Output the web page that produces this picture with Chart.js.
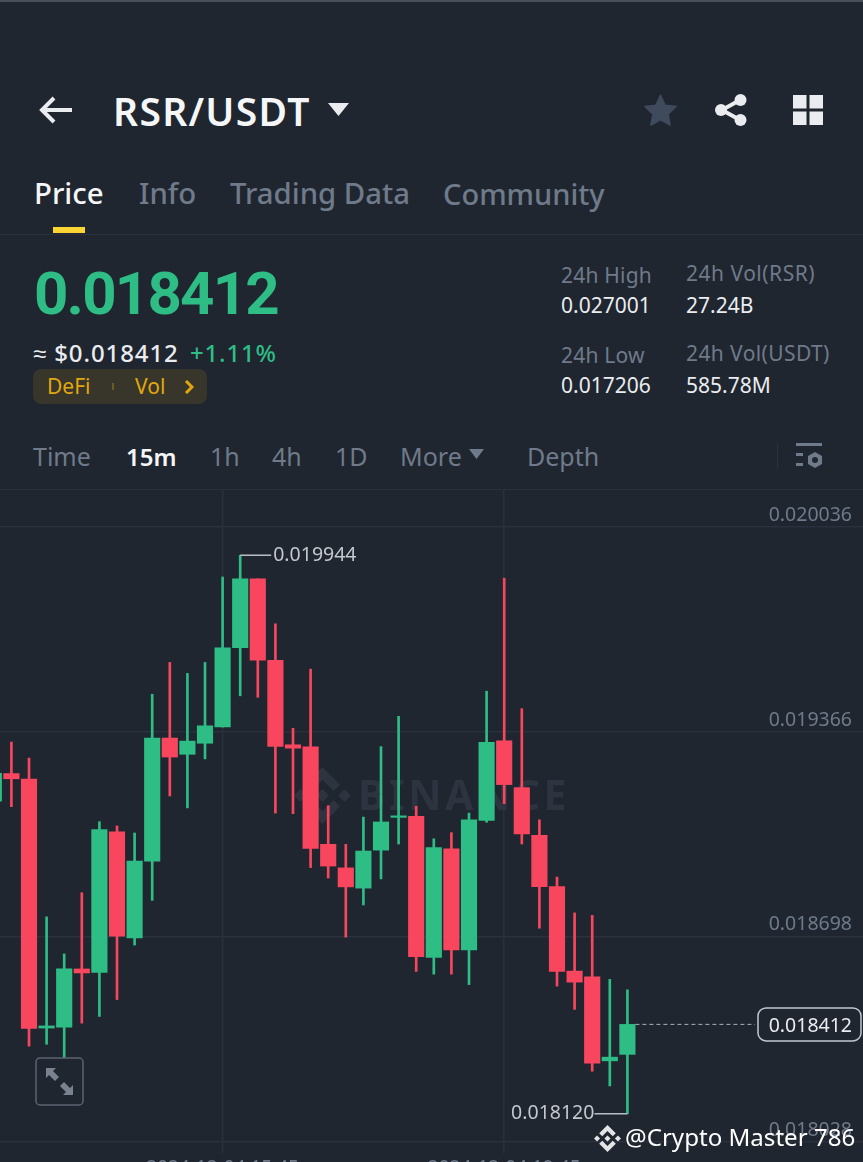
<!DOCTYPE html>
<html>
<head>
<meta charset="utf-8">
<title>RSR/USDT</title>
<script src="https://cdn.jsdelivr.net/npm/chart.js@4"></script>
<style>
    html, body { margin: 0; padding: 0; width: 863px; height: 1162px; overflow: hidden; background: #1f2630; }
    body { position: relative; font-family: "Noto Sans", sans-serif; color: #eaecef; }
    .t { position: absolute; white-space: nowrap; line-height: 1; }
    .gray { color: #6f7a8a; }
    .line { position: absolute; background: #2a313c; }
    svg { position: absolute; }
    #chart { position: absolute; left: -15px; top: 490px; }
</style>
</head>
<body>
<div style="position:absolute;left:0;top:0;width:863px;height:1.5px;background:#4a4f5a"></div>
<svg style="left:38px;top:95px" width="36" height="30" viewBox="0 0 36 30"><path d="M16 3 L4 15 L16 27 M4 15 H34" fill="none" stroke="#eaecef" stroke-width="4"/></svg>
<div class="t" style="left:113px;top:91px;font-size:39px;font-weight:600;color:#f5f6f7;letter-spacing:1.3px">RSR/USDT</div>
<svg style="left:328px;top:102px" width="22" height="15"><path d="M0 1 H21 L10.500 14 Z" fill="#eaecef"/></svg>
<svg style="left:643px;top:93px" width="35" height="35" viewBox="0 0 24 24"><path d="M12 1.500 l3.200 6.900 7.500.9-5.500 5.200 1.400 7.500L12 18.400 5.400 22l1.400-7.500L1.300 9.300l7.500-.9z" fill="#3f4a5c" stroke="#3f4a5c" stroke-linejoin="round"/></svg>
<svg style="left:714px;top:93px" width="34" height="34" viewBox="0 0 34 34"><path d="M26 7 L8 17 L26 27" fill="none" stroke="#eaecef" stroke-width="4"/><circle cx="26.500" cy="7" r="6" fill="#eaecef"/><circle cx="7" cy="17" r="6" fill="#eaecef"/><circle cx="26.500" cy="27" r="6" fill="#eaecef"/></svg>
<svg style="left:793px;top:95px" width="30" height="30"><path d="M0 0 H13.500 V13.500 H0 Z M16.500 0 H30 V13.500 H16.500 Z M0 16.500 H13.500 V30 H0 Z M16.500 16.500 H30 V30 H16.500 Z" fill="#eaecef"/></svg>

<div class="t" style="left:34px;top:179px;font-size:29.400px;font-weight:500;color:#f5f6f7">Price</div>
<div class="t gray" style="left:139px;top:179px;font-size:29.400px;font-weight:500">Info</div>
<div class="t gray" style="left:230px;top:179px;font-size:29.300px;font-weight:500">Trading Data</div>
<div class="t gray" style="left:443px;top:179px;font-size:29px;font-weight:500">Community</div>
<div style="position:absolute;left:53px;top:227px;width:32px;height:6px;background:#fcd535"></div>
<div class="line" style="left:0;top:234px;width:863px;height:1px"></div>

<div class="t" style="left:34px;top:264px;font-family:Roboto,sans-serif;font-size:60px;font-weight:700;letter-spacing:-1.800px;color:#2ebd85">0.018412</div>
<div class="t" style="left:33px;top:341px;font-size:24px;font-weight:500;letter-spacing:.9px">≈ $0.018412</div>
<div class="t" style="left:190px;top:341px;font-size:24px;font-weight:500;letter-spacing:.8px;color:#2ebd85">+1.11%</div>
<div style="position:absolute;left:33px;top:369px;width:174px;height:35px;border-radius:8px;background:#38352b"></div>
<div class="t" style="left:47px;top:376px;font-size:21px;color:#e0a80d">DeFi</div>
<div style="position:absolute;left:112px;top:383px;width:2px;height:7px;background:#6a5a25"></div>
<div class="t" style="left:135px;top:376px;font-size:21px;color:#e0a80d">Vol</div>
<svg style="left:184px;top:380px" width="10" height="14"><path d="M2 1 L8 7 L2 13" fill="none" stroke="#e0a80d" stroke-width="3"/></svg>

<div class="t gray" style="left:561px;top:265px;font-size:21px;letter-spacing:.2px">24h High</div>
<div class="t" style="left:561px;top:295px;font-size:21px">0.027001</div>
<div class="t gray" style="left:561px;top:345px;font-size:21px;letter-spacing:.2px">24h Low</div>
<div class="t" style="left:561px;top:375px;font-size:21px">0.017206</div>
<div class="t gray" style="left:686px;top:263px;font-size:21px;letter-spacing:.5px">24h Vol(RSR)</div>
<div class="t" style="left:686px;top:295px;font-size:21px">27.24B</div>
<div class="t gray" style="left:686px;top:343px;font-size:21px;letter-spacing:.4px">24h Vol(USDT)</div>
<div class="t" style="left:686px;top:375px;font-size:21px">585.78M</div>

<div class="t gray" style="left:33px;top:444px;font-size:25px">Time</div>
<div class="t" style="left:126px;top:445px;font-size:24px;font-weight:600;color:#f5f6f7">15m</div>
<div class="t gray" style="left:210px;top:444px;font-size:25px">1h</div>
<div class="t gray" style="left:272px;top:444px;font-size:25px">4h</div>
<div class="t gray" style="left:335px;top:444px;font-size:25px">1D</div>
<div class="t gray" style="left:400px;top:444px;font-size:25px">More</div>
<svg style="left:469px;top:449px" width="15" height="11"><path d="M0 0 H15 L7.500 10 Z" fill="#6f7a8a"/></svg>
<div class="t gray" style="left:527px;top:444px;font-size:25px">Depth</div>
<div class="line" style="left:777px;top:443px;width:1px;height:26px"></div>
<svg style="left:796px;top:443px" width="27" height="26"><path d="M0 0 H26 V3 H0 Z M0 10 H7 V13 H0 Z M0 20 H7 V23 H0 Z" fill="#6f7a8a"/><path d="M19 9 L26 13 V21 L19 25 L12 21 V13 Z" fill="#6f7a8a"/><circle cx="19" cy="17" r="3" fill="#1f2630"/></svg>
<div class="line" style="left:0;top:489px;width:863px;height:1px"></div>

<canvas id="chart" width="880" height="690"></canvas>

<svg style="left:35px;top:1057px" width="49" height="49" viewBox="0 0 49 49"><rect x="1" y="1" width="47" height="47" rx="4" fill="#1f2630" stroke="#5b6370" stroke-width="1.500"/><path d="M11 11 H21 L18 14 L24 20 L20 24 L14 18 L11 21 Z M38 38 H28 L31 35 L25 29 L29 25 L35 31 L38 28 Z" fill="#7a8290"/></svg>

<svg style="left:594px;top:1125px" width="27" height="27" viewBox="0 0 126.610 126.610"><path d="M38.730 53.200l24.590-24.580 24.600 24.600 14.300-14.310L63.320 0 24.430 38.900zM0 63.310l14.300-14.310 14.310 14.310-14.310 14.300zM38.730 73.410l24.590 24.590 24.600-24.600 14.310 14.290-.01.010-38.900 38.910-38.900-38.880-.02-.02zM98.010 63.310l14.300-14.310 14.300 14.310-14.300 14.300zM77.830 63.300L63.320 48.780 52.590 59.510l-1.240 1.230-2.540 2.540 14.510 14.500 14.510-14.470z" fill="#e4e4e4"/></svg>
<div class="t" style="left:625px;top:1125px;font-size:24.100px;color:#fff">@Crypto Master 786</div>

<script>
const categories = [
    '2024-12-04 12:30', '2024-12-04 12:45', '2024-12-04 13:00', '2024-12-04 13:15', '2024-12-04 13:30',
    '2024-12-04 13:45', '2024-12-04 14:00', '2024-12-04 14:15', '2024-12-04 14:30', '2024-12-04 14:45',
    '2024-12-04 15:00', '2024-12-04 15:15', '2024-12-04 15:30', '2024-12-04 15:45', '2024-12-04 16:00',
    '2024-12-04 16:15', '2024-12-04 16:30', '2024-12-04 16:45', '2024-12-04 17:00', '2024-12-04 17:15',
    '2024-12-04 17:30', '2024-12-04 17:45', '2024-12-04 18:00', '2024-12-04 18:15', '2024-12-04 18:30',
    '2024-12-04 18:45', '2024-12-04 19:00', '2024-12-04 19:15', '2024-12-04 19:30', '2024-12-04 19:45',
    '2024-12-04 20:00', '2024-12-04 20:15', '2024-12-04 20:30', '2024-12-04 20:45', '2024-12-04 21:00',
    '2024-12-04 21:15', '2024-12-04 21:30', '2024-12-04 21:45', '2024-12-04 22:00', '2024-12-04 22:15',
    '2024-12-04 22:30', '2024-12-04 22:45', '2024-12-04 23:00', '2024-12-04 23:15', '2024-12-04 23:30',
    '2024-12-04 23:45', '2024-12-05 00:00', '2024-12-05 00:15', '2024-12-05 00:30', '2024-12-05 00:45'
];

const openPrices = [
    0.019141, 0.019231, 0.019213, 0.018400, 0.018403, 0.018593, 0.018582, 0.019041, 0.018694, 0.018945,
    0.019347, 0.019294, 0.019330, 0.019383, 0.019642, 0.019867, 0.019601, 0.019325, 0.019318, 0.019000,
    0.018923, 0.018857, 0.018981, 0.019088, 0.019091, 0.018631, 0.018985, 0.018655, 0.019078, 0.019338,
    0.019185, 0.019029, 0.018862, 0.018586, 0.018567, 0.018293, 0.018314
];
const closePrices = [
    0.019232, 0.019214, 0.018399, 0.018407, 0.018593, 0.018580, 0.019048, 0.018700, 0.018945, 0.019347,
    0.019285, 0.019337, 0.019387, 0.019642, 0.019867, 0.019601, 0.019320, 0.019314, 0.018987, 0.018929,
    0.018861, 0.018978, 0.019073, 0.019093, 0.018633, 0.018989, 0.018655, 0.019080, 0.019333, 0.019195,
    0.019034, 0.018862, 0.018585, 0.018550, 0.018285, 0.018305, 0.018412
];
const highPrices = [
    0.019243, 0.019334, 0.019282, 0.018763, 0.018642, 0.018842, 0.019074, 0.019060, 0.019037, 0.019490,
    0.019594, 0.019558, 0.019594, 0.019873, 0.019944, 0.019867, 0.019720, 0.019379, 0.019572, 0.019126,
    0.019000, 0.019089, 0.019319, 0.019418, 0.019124, 0.019018, 0.019038, 0.019102, 0.019500, 0.019869,
    0.019443, 0.019080, 0.018893, 0.018776, 0.018768, 0.018559, 0.018525
];
const lowPrices = [
    0.019128, 0.019123, 0.018341, 0.018347, 0.018302, 0.018416, 0.018438, 0.018493, 0.018671, 0.018817,
    0.019158, 0.019119, 0.019279, 0.019383, 0.019485, 0.019480, 0.019102, 0.019100, 0.018924, 0.018890,
    0.018697, 0.018802, 0.018887, 0.019001, 0.018585, 0.018576, 0.018576, 0.018542, 0.019072, 0.019133,
    0.019001, 0.018726, 0.018537, 0.018461, 0.018259, 0.018211, 0.018120
];

const priceTicks = [0.020036, 0.019366, 0.018698, 0.018028];
const timeTicks = ['2024-12-04 15:45', '2024-12-04 19:45'];

const UP = '#2ebd85';
const DOWN = '#f9465f';
const GRID = '#2a313c';
const LABEL = '#6f7a8a';
const FONT = '"Noto Sans", sans-serif';
const LOGO = 'M38.73 53.2l24.59-24.58 24.6 24.6 14.3-14.31L63.32 0 24.43 38.9zM0 63.31l14.3-14.31 14.31 14.31-14.31 14.3zM38.73 73.41l24.59 24.59 24.6-24.6 14.31 14.29-.01.01-38.9 38.91-38.9-38.88-.02-.02zM98.01 63.31l14.3-14.31 14.3 14.31-14.3 14.3zM77.83 63.3L63.32 48.78 52.59 59.51l-1.24 1.23-2.54 2.54 14.51 14.5 14.51-14.47z';

function candleColor(ctx) {
    return closePrices[ctx.dataIndex] >= openPrices[ctx.dataIndex] ? UP : DOWN;
}

// faint exchange mark behind the candles
const watermark = {
    id: 'watermark',
    beforeDatasetsDraw(chart) {
        const c = chart.ctx;
        c.save();
        c.fillStyle = '#2d333f';
        c.translate(309, 277);
        c.scale(0.45, 0.45);
        c.fill(new Path2D(LOGO));
        c.restore();
        c.save();
        c.fillStyle = '#2d333f';
        c.font = `700 41px ${FONT}`;
        c.letterSpacing = '3.5px';
        c.textBaseline = 'middle';
        c.fillText('BINANCE', 373, 308);
        c.restore();
    }
};

// high / low callouts and the last price tag
const priceMarks = {
    id: 'priceMarks',
    afterDatasetsDraw(chart) {
        const c = chart.ctx;
        const x = chart.scales.x;
        const y = chart.scales.y;
        const hi = Math.max(...highPrices);
        const lo = Math.min(...lowPrices);
        const hiX = x.getPixelForValue(highPrices.indexOf(hi));
        const loX = x.getPixelForValue(lowPrices.indexOf(lo));
        const last = closePrices[closePrices.length - 1];
        const lastX = x.getPixelForValue(closePrices.length - 1);
        const lastY = y.getPixelForValue(last);

        c.save();
        c.font = `19.5px ${FONT}`;
        c.textBaseline = 'middle';
        c.strokeStyle = '#b7bdc6';
        c.fillStyle = '#c4c8ce';
        c.lineWidth = 1.5;

        c.beginPath();
        c.moveTo(hiX, y.getPixelForValue(hi));
        c.lineTo(hiX + 31, y.getPixelForValue(hi));
        c.stroke();
        c.textAlign = 'left';
        c.fillText(hi.toFixed(6), hiX + 33, y.getPixelForValue(hi));

        c.beginPath();
        c.moveTo(loX, y.getPixelForValue(lo));
        c.lineTo(loX - 33, y.getPixelForValue(lo));
        c.stroke();
        c.textAlign = 'right';
        c.fillText(lo.toFixed(6), loX - 33, y.getPixelForValue(lo));

        c.lineWidth = 1;
        c.setLineDash([4, 3]);
        c.strokeStyle = '#aab0b8';
        c.beginPath();
        c.moveTo(lastX + 8, lastY);
        c.lineTo(x.right - 110, lastY);
        c.stroke();
        c.setLineDash([]);

        c.fillStyle = '#1f2630';
        c.strokeStyle = '#c4c8ce';
        c.lineWidth = 1.5;
        c.beginPath();
        c.roundRect(x.right - 107, lastY - 16.5, 103, 33, 8);
        c.fill();
        c.stroke();
        c.fillStyle = '#eaecef';
        c.fillText(last.toFixed(6), x.right - 13, lastY + 2);
        c.restore();
    }
};

new Chart(document.getElementById('chart').getContext('2d'), {
    type: 'bar',
    data: {
        labels: categories,
        datasets: [
            {
                label: 'Wick',
                data: lowPrices.map((low, i) => [low, highPrices[i]]),
                backgroundColor: candleColor,
                barThickness: 2,
                grouped: false,
                borderWidth: 0,
                borderSkipped: false
            },
            {
                label: 'Body',
                data: openPrices.map((open, i) => [open, closePrices[i]]),
                backgroundColor: candleColor,
                barThickness: 15.5,
                grouped: false,
                borderWidth: 0,
                borderSkipped: false
            }
        ]
    },
    options: {
        responsive: false,
        animation: false,
        devicePixelRatio: 1,
        layout: { padding: 0 },
        plugins: {
            legend: { display: false },
            tooltip: { enabled: false }
        },
        scales: {
            x: {
                offset: true,
                afterFit: scale => { scale.height = 27; },
                border: { display: false },
                grid: {
                    offset: false,
                    drawTicks: false,
                    lineWidth: 1.5,
                    color: ctx => ctx.tick && timeTicks.includes(categories[ctx.tick.value]) ? GRID : 'transparent'
                },
                ticks: {
                    autoSkip: false,
                    minRotation: 0,
                    maxRotation: 0,
                    padding: 4,
                    color: LABEL,
                    font: { family: FONT, size: 19 },
                    callback: value => timeTicks.includes(categories[value]) ? categories[value] : ''
                }
            },
            y: {
                position: 'right',
                min: 0.017992,
                max: 0.020157,
                afterBuildTicks: scale => { scale.ticks = priceTicks.map(value => ({ value })); },
                border: { display: false },
                grid: { color: GRID, drawTicks: false, lineWidth: 1.5 },
                ticks: {
                    mirror: true,
                    padding: -13,
                    labelOffset: -12,
                    color: LABEL,
                    font: { family: FONT, size: 19.5 },
                    callback: value => value.toFixed(6)
                }
            }
        }
    },
    plugins: [watermark, priceMarks]
});
</script>
</body>
</html>
